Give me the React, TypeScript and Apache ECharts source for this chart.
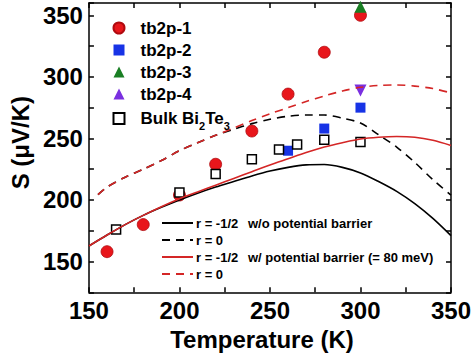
import React, { useEffect, useRef } from "react";
import * as echarts from "echarts";

const FONT = 'Arial, "Liberation Sans", sans-serif';

// Scatter data (T in K, S in µV/K)
const tb2p1T = [160, 180, 200, 220, 240, 260, 280, 300];
const tb2p1S = [158, 180, 204, 229, 256, 286, 320, 350];
const tb2p2T = [260, 280, 300];
const tb2p2S = [240, 258, 275];
const tb2p3T = [300];
const tb2p3S = [357];
const tb2p4T = [300];
const tb2p4S = [289];
const bulkT = [165, 200, 220, 240, 255, 265, 280, 300];
const bulkS = [176, 206, 221, 233, 241, 245, 249, 247];

// Model curves
const curveT = [150, 160, 170, 180, 190, 200, 210, 220, 230, 240, 250, 260, 270, 280, 290, 300, 310, 320, 330, 340, 350];
const solidNoBarrier = [162.6, 171.5, 180, 187.5, 194, 200, 205.5, 210.5, 215, 219.5, 223.5, 226.5, 228.5, 228.8, 226.5, 222, 215, 207, 197, 185, 171];
const solidBarrier = [162.6, 171.5, 180, 187.5, 194.5, 201, 206.5, 212, 217.5, 223, 228.5, 233.5, 238.5, 243, 246.5, 249.5, 251, 251.6, 251, 248.5, 244.3];
const dashT = [155, 160, 170, 180, 190, 200, 210, 220, 230, 240, 250, 260, 270, 280, 290, 300, 310, 320, 330, 340, 350];
const dashNoBarrier = [204.4, 210.5, 218.5, 225, 232, 240, 246.5, 252.5, 257.5, 262, 265.5, 268, 269, 269, 266.5, 262.5, 253, 243, 230.5, 216.5, 204];
const dashBarrier = [204.4, 210.5, 218.5, 225, 232, 240, 246.5, 252.5, 258.5, 264.5, 270, 275, 280, 284.5, 288.5, 291.5, 293, 293.4, 292.5, 290.5, 287];

const scatterNames = ["tb2p-1", "tb2p-2", "tb2p-3", "tb2p-4", "Bulk Bi2Te3"];
const lineNames = [
  "r = -1/2 w/o potential barrier",
  "r = 0 w/o potential barrier",
  "r = -1/2 w/ potential barrier (= 80 meV)",
  "r = 0 w/ potential barrier (= 80 meV)",
];
const lineLabelA = ["r = -1/2", "r = 0", "r = -1/2", "r = 0"];
const lineLabelB = ["w/o potential barrier", "", "w/ potential barrier (= 80 meV)", ""];

const zip = (xs: number[], ys: number[]) => xs.map((x, i) => [x, ys[i]]);

export default function App() {
  const ref = useRef<HTMLDivElement>(null);
  useEffect(() => {
    if (!ref.current) return;
    const chart = echarts.init(ref.current, undefined, { renderer: "svg" });
    const axisLineStyle = { color: "#000", width: 1.5 };
    const tick = { show: true, inside: true, length: 5, lineStyle: { color: "#000", width: 1.5 } };
    const labelStyle = { fontFamily: FONT, fontWeight: "bold" as const, fontSize: 24, color: "#000" };
    const red = "#d42626";
    const option: any = {
      animation: false,
      backgroundColor: "#fff",
      grid: { left: 82.5, right: 22, top: 3, bottom: 66.7 },
      xAxis: [
        {
          type: "value",
          min: 150,
          max: 350,
          interval: 25,
          name: "Temperature (K)",
          nameLocation: "middle",
          nameGap: 30,
          nameTextStyle: { ...labelStyle, padding: [0, 16, 0, 0] },
          axisLine: { show: true, lineStyle: axisLineStyle },
          axisTick: tick,
          splitLine: { show: false },
          axisLabel: {
            ...labelStyle,
            margin: 6,
            formatter: (v: number) => (v % 50 === 0 ? String(v) : ""),
          },
        },
        {
          type: "value",
          position: "top",
          min: 150,
          max: 350,
          interval: 25,
          axisLine: { show: true, lineStyle: axisLineStyle },
          axisTick: tick,
          splitLine: { show: false },
          axisLabel: { show: false },
        },
      ],
      yAxis: [
        {
          type: "value",
          min: 125,
          max: 360,
          interval: 25,
          name: "S (\u03BCV/K)",
          nameLocation: "middle",
          nameGap: 54,
          nameTextStyle: { ...labelStyle, padding: [0, 0, 0, 10] },
          axisLine: { show: true, lineStyle: axisLineStyle },
          axisTick: tick,
          splitLine: { show: false },
          axisLabel: {
            ...labelStyle,
            margin: 6,
            formatter: (v: number) => (v % 50 === 0 ? String(v) : ""),
          },
        },
        {
          type: "value",
          position: "right",
          min: 125,
          max: 360,
          interval: 25,
          axisLine: { show: true, lineStyle: axisLineStyle },
          axisTick: tick,
          splitLine: { show: false },
          axisLabel: { show: false },
        },
      ],
      legend: [
        {
          orient: "vertical",
          left: 107.5,
          top: 13,
          itemWidth: 11,
          itemHeight: 11,
          itemGap: 2,
          selectedMode: false,
          data: scatterNames,
          formatter: (n: string) => (n === "Bulk Bi2Te3" ? "{a|Bulk Bi}{s|2}{a|Te}{s|3}" : n),
          textStyle: {
            fontFamily: FONT,
            fontSize: 17,
            fontWeight: "bold",
            color: "#000",
            lineHeight: 20,
            padding: [0, 0, 0, 11],
            rich: {
              a: { fontFamily: FONT, fontSize: 17, fontWeight: "bold", color: "#000", lineHeight: 20 },
              s: { fontFamily: FONT, fontSize: 11, fontWeight: "bold", color: "#000", lineHeight: 11, padding: [14, 0, 0, 0] },
            },
          },
        },
        {
          orient: "vertical",
          left: 156,
          top: 210.5,
          itemWidth: 31,
          itemHeight: 10,
          itemGap: 2,
          selectedMode: false,
          data: lineNames,
          itemStyle: { color: "rgba(0,0,0,0)", borderWidth: 0, opacity: 0 },
          formatter: (n: string) => {
            const i = lineNames.indexOf(n);
            return lineLabelB[i] ? `{a|${lineLabelA[i]}}{b|${lineLabelB[i]}}` : `{a|${lineLabelA[i]}}`;
          },
          textStyle: {
            fontFamily: FONT,
            fontSize: 13,
            fontWeight: "bold",
            color: "#000",
            lineHeight: 15,
            padding: [0, 0, 0, -2],
            rich: {
              a: { fontFamily: FONT, fontSize: 13, fontWeight: "bold", color: "#000", lineHeight: 15, width: 52 },
              b: { fontFamily: FONT, fontSize: 13, fontWeight: "bold", color: "#000", lineHeight: 15 },
            },
          },
        },
      ],
      series: [
        {
          name: lineNames[0],
          type: "line",
          data: zip(curveT, solidNoBarrier),
          smooth: 0.3,
          symbol: "none",
          showSymbol: false,
          lineStyle: { color: "#000", width: 1.6, type: "solid" },
          itemStyle: { color: "#000" },
        },
        {
          name: lineNames[1],
          type: "line",
          data: zip(dashT, dashNoBarrier),
          smooth: 0.3,
          symbol: "none",
          showSymbol: false,
          lineStyle: { color: "#000", width: 1.6, type: [8, 6] },
          itemStyle: { color: "#000" },
        },
        {
          name: lineNames[2],
          type: "line",
          data: zip(curveT, solidBarrier),
          smooth: 0.3,
          symbol: "none",
          showSymbol: false,
          lineStyle: { color: red, width: 1.6, type: "solid" },
          itemStyle: { color: red },
        },
        {
          name: lineNames[3],
          type: "line",
          data: zip(dashT, dashBarrier),
          smooth: 0.3,
          symbol: "none",
          showSymbol: false,
          lineStyle: { color: red, width: 1.6, type: [8, 6] },
          itemStyle: { color: red },
        },
        {
          name: scatterNames[0],
          type: "scatter",
          data: zip(tb2p1T, tb2p1S),
          symbol: "circle",
          symbolSize: 12,
          itemStyle: { color: "#e8161b", borderColor: "#b00a0f", borderWidth: 0.8, opacity: 1 },
        },
        {
          name: scatterNames[1],
          type: "scatter",
          data: zip(tb2p2T, tb2p2S),
          symbol: "rect",
          symbolSize: 10,
          itemStyle: { color: "#1733e6", opacity: 1 },
        },
        {
          name: scatterNames[2],
          type: "scatter",
          data: zip(tb2p3T, tb2p3S),
          symbol: "triangle",
          symbolSize: 12,
          itemStyle: { color: "#1a7f24", opacity: 1 },
        },
        {
          name: scatterNames[3],
          type: "scatter",
          data: zip(tb2p4T, tb2p4S),
          symbol: "triangle",
          symbolRotate: 180,
          symbolSize: 12,
          itemStyle: { color: "#7a2fe0", opacity: 1 },
        },
        {
          name: scatterNames[4],
          type: "scatter",
          data: zip(bulkT, bulkS),
          symbol: "rect",
          symbolSize: 9,
          itemStyle: { color: "#fff", borderColor: "#000", borderWidth: 1.5, opacity: 1 },
        },
      ],
    };
    chart.setOption(option);
    return () => chart.dispose();
  }, []);
  return (
    <div
      ref={ref}
      style={{ position: "fixed", left: 0, top: 0, width: 474, height: 359, background: "#fff" }}
    />
  );
}
